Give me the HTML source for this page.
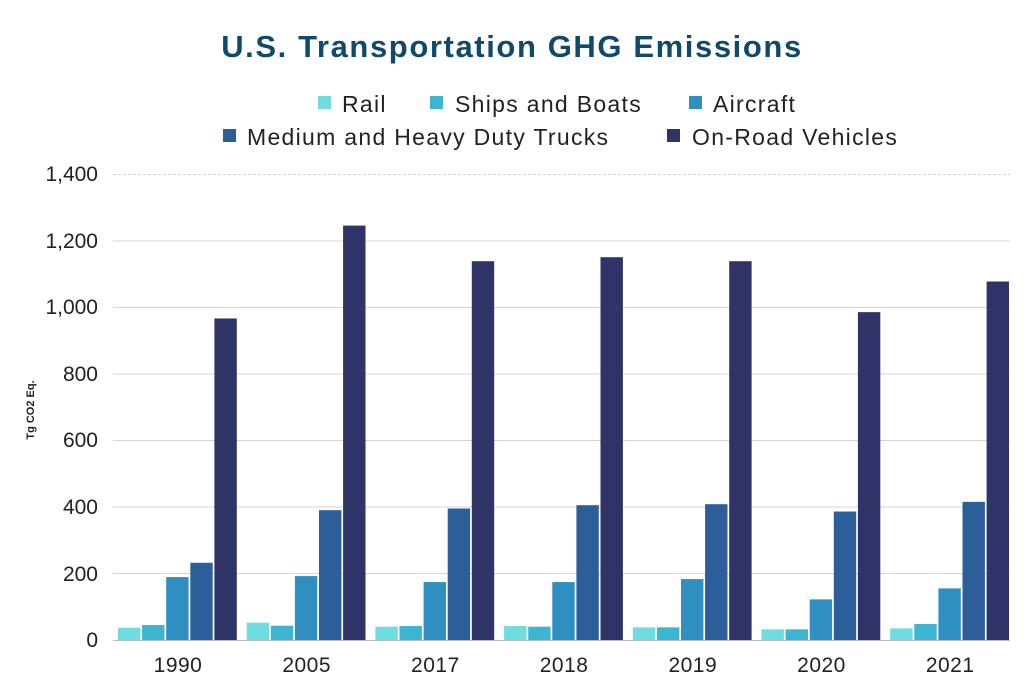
<!DOCTYPE html>
<html><head><style>
body{margin:0;background:#fff;}
svg text{font-family:"Liberation Sans",sans-serif;}
</style></head><body>
<svg width="1024" height="683" xmlns="http://www.w3.org/2000/svg">
<text x="512" y="57" text-anchor="middle" font-size="31" font-weight="bold" letter-spacing="1.6" fill="#0f4a6a">U.S. Transportation GHG Emissions</text>
<g font-size="23" fill="#222" letter-spacing="1.3">
<rect x="318" y="96" width="13" height="13" fill="#6fdde0"/><text x="342" y="112">Rail</text>
<rect x="430" y="96" width="13" height="13" fill="#3bb5d0"/><text x="455" y="112">Ships and Boats</text>
<rect x="689" y="96" width="13" height="13" fill="#2e8fc0"/><text x="713" y="112">Aircraft</text>
<rect x="223" y="129" width="13" height="13" fill="#2c5f9a"/><text x="247" y="145">Medium and Heavy Duty Trucks</text>
<rect x="667" y="129" width="13" height="13" fill="#2f3368"/><text x="692" y="145">On-Road Vehicles</text>
</g>
<g stroke="#d4d4d4" stroke-width="1">
<line x1="113" x2="1010" y1="174.5" y2="174.5" stroke-dasharray="3,2"/>
<line x1="113" x2="1010" y1="241" y2="241"/>
<line x1="113" x2="1010" y1="307.5" y2="307.5"/>
<line x1="113" x2="1010" y1="374" y2="374"/>
<line x1="113" x2="1010" y1="440.5" y2="440.5"/>
<line x1="113" x2="1010" y1="507" y2="507"/>
<line x1="113" x2="1010" y1="573.5" y2="573.5"/>
</g>
<g font-size="21" fill="#222" text-anchor="end">
<text x="98" y="181">1,400</text><text x="98" y="248">1,200</text><text x="98" y="314">1,000</text>
<text x="98" y="381">800</text><text x="98" y="447">600</text><text x="98" y="514">400</text>
<text x="98" y="581">200</text><text x="98" y="647">0</text>
</g>
<text transform="translate(34,410) rotate(-90)" text-anchor="middle" font-size="11" font-weight="bold" fill="#222">Tg CO2 Eq.</text>
<g id="bars"></g>
<line x1="113" x2="1010" y1="640.5" y2="640.5" stroke="#bbb" stroke-width="1"/>
<g id="xl" font-size="21" fill="#222" text-anchor="middle" letter-spacing="0.5"></g>
<script>
var d=[["1990",[37,45,189,232,966]],["2005",[52,43,192,390,1245]],["2017",[40,42,174,395,1138]],["2018",[42,40,174,405,1150]],["2019",[38,38,183,408,1138]],["2020",[32,32,122,386,985]],["2021",[35,48,155,415,1077]]];
var c=["#6fdde0","#3bb5d0","#2e8fc0","#2c5f9a","#2f3368"];
var ns="http://www.w3.org/2000/svg",g=document.getElementById("bars"),xl=document.getElementById("xl");
d.forEach(function(r,i){var x0=118+i*128.7;
r[1].forEach(function(v,j){var h=v*466/1400;var e=document.createElementNS(ns,"rect");
e.setAttribute("x",x0+j*24.1);e.setAttribute("width",22.4);e.setAttribute("y",640-h);e.setAttribute("height",h);e.setAttribute("fill",c[j]);g.appendChild(e);});
var t=document.createElementNS(ns,"text");t.setAttribute("x",x0+60);t.setAttribute("y",672);t.textContent=r[0];xl.appendChild(t);});
</script>
</svg>
</body></html>
